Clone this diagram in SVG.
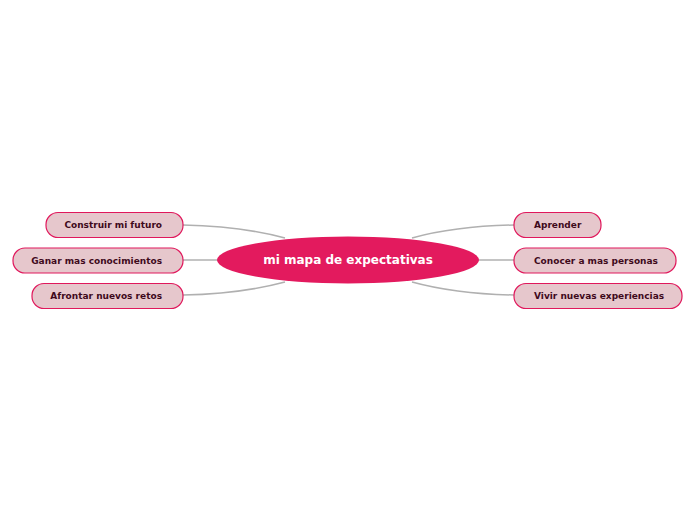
<svg xmlns="http://www.w3.org/2000/svg" width="696" height="520" viewBox="0 0 696 520">
<style>
.b{fill:#e6c7cc;stroke:#e0185c;stroke-width:1.2}
.t{font-family:"DejaVu Sans",sans-serif;font-weight:bold;font-size:9px;fill:#3f0a1c}
.c{fill:none;stroke:#b0b0b0;stroke-width:1.5}
</style>
<rect width="696" height="520" fill="#fff"/>
<g id="connectors">
<path class="c" d="M183 225 Q240 226 285 238"/>
<path class="c" d="M183 260 L218 260"/>
<path class="c" d="M183 295 Q240 294 285 282"/>
<path class="c" d="M514 225 Q456 226 412 238"/>
<path class="c" d="M478 260 L514 260"/>
<path class="c" d="M514 295 Q456 294 412 282"/>
</g>
<g id="center"><ellipse cx="348" cy="260" rx="131" ry="23.5" fill="#e31a5e"/><text x="348" y="264" text-anchor="middle" font-family="DejaVu Sans,sans-serif" font-weight="bold" font-size="12" fill="#fff">mi mapa de expectativas</text></g>
<g id="n1"><rect class="b" x="46" y="212.5" width="137" height="25" rx="12"/><text class="t" x="162" y="228" text-anchor="end">Construir mi futuro</text></g>
<g id="n2"><rect class="b" x="13" y="248" width="170" height="25" rx="12"/><text class="t" x="162" y="264" text-anchor="end">Ganar mas conocimientos</text></g>
<g id="n3"><rect class="b" x="32" y="283.5" width="151" height="25" rx="12"/><text class="t" x="162" y="299" text-anchor="end">Afrontar nuevos retos</text></g>
<g id="n4"><rect class="b" x="514" y="212.5" width="87" height="25" rx="12"/><text class="t" x="534" y="228">Aprender</text></g>
<g id="n5"><rect class="b" x="514" y="248" width="162" height="25" rx="12"/><text class="t" x="534" y="264">Conocer a mas personas</text></g>
<g id="n6"><rect class="b" x="514" y="283.5" width="168" height="25" rx="12"/><text class="t" x="534" y="299">Vivir nuevas experiencias</text></g>
</svg>
